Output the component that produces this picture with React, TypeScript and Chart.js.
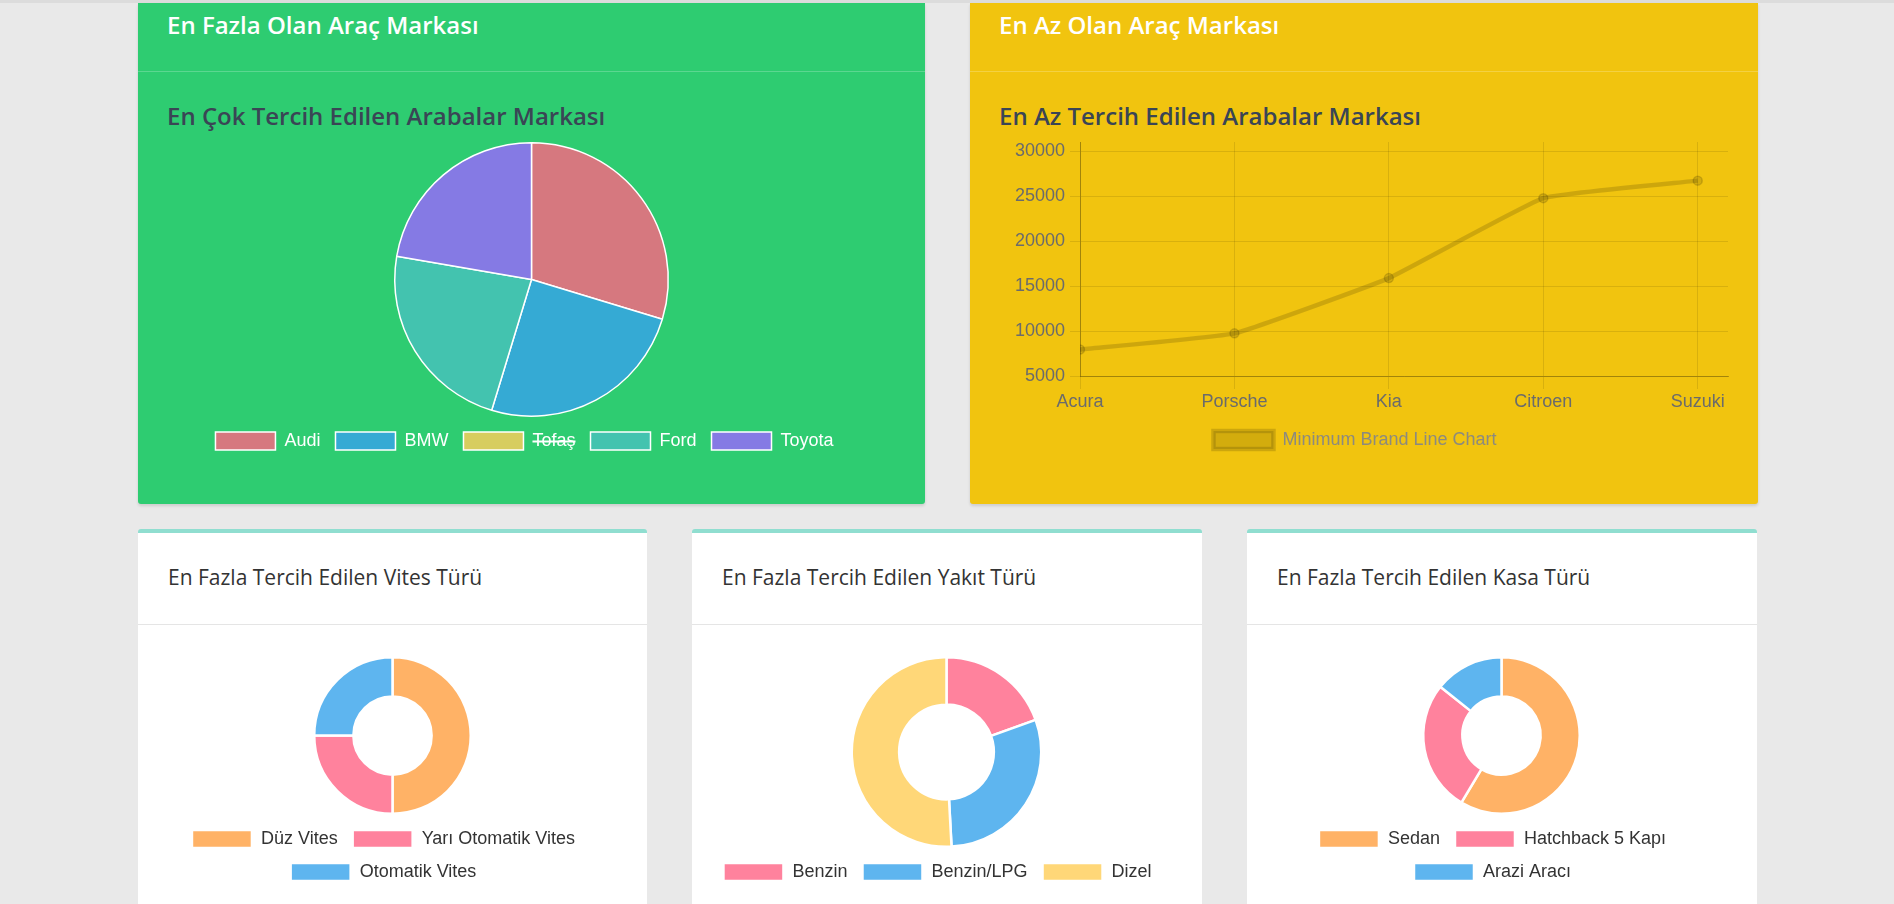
import React, { useEffect, useRef } from "react";
import { Chart, registerables } from "chart.js";

Chart.register(...registerables);

// ---------- data ----------
const brandLabels = ["Audi", "BMW", "Tofaş", "Ford", "Toyota"];
const brandValues = [1200, 1010, 850, 930, 900];
const brandColors = ["#d6787f", "#35aad4", "#d7cd5f", "#43c3af", "#857ae4"];
const hiddenBrandIndex = 2;

const minBrandLabels = ["Acura", "Porsche", "Kia", "Citroen", "Suzuki"];
const minBrandValues = [7950, 9750, 15900, 24800, 26750];
const minBrandSeriesName = "Minimum Brand Line Chart";
const yTickValues = [5000, 10000, 15000, 20000, 25000, 30000];

const gearLabels = ["Düz Vites", "Yarı Otomatik Vites", "Otomatik Vites"];
const gearValues = [50, 25, 25];
const gearColors = ["rgba(255,159,64,0.8)", "rgba(255,99,132,0.8)", "rgba(54,162,235,0.8)"];

const fuelLabels = ["Benzin", "Benzin/LPG", "Dizel"];
const fuelValues = [23, 35, 60];
const fuelColors = ["rgba(255,99,132,0.8)", "rgba(54,162,235,0.8)", "rgba(255,205,86,0.8)"];

const bodyLabels = ["Sedan", "Hatchback 5 Kapı", "Arazi Aracı"];
const bodyValues = [41, 19, 10];
const bodyColors = ["rgba(255,159,64,0.8)", "rgba(255,99,132,0.8)", "rgba(54,162,235,0.8)"];

// ---------- styles ----------
const CHART_FONT = "'Liberation Sans', Arial, Helvetica, sans-serif";
const TEXT_FONT = "'Open Sans', sans-serif";

// shifts the (centered) legend row a little to the left, like the original renderer
const legendShift = {
  id: "legendShift",
  afterLayout(chart: any, _args: any, opts: any) {
    const l = chart.legend;
    const dx = (opts && opts.dx) || 0;
    if (l && dx) {
      l.left -= dx;
      l.right -= dx;
    }
  },
};

function ChartCanvas(props: {
  left: number;
  top: number;
  width: number;
  height: number;
  build: () => any;
  after?: (c: Chart) => void;
}) {
  const ref = useRef<HTMLCanvasElement>(null);
  useEffect(() => {
    const cfg = props.build();
    cfg.plugins = [legendShift];
    const chart = new Chart(ref.current as HTMLCanvasElement, cfg);
    if (props.after) props.after(chart);
    return () => chart.destroy();
  }, []);
  return (
    <canvas
      ref={ref}
      width={props.width}
      height={props.height}
      style={{
        position: "absolute",
        left: props.left,
        top: props.top,
        width: props.width,
        height: props.height,
      }}
    />
  );
}

function Label(props: {
  x: number;
  baseline: number;
  size: number;
  weight: number;
  color: string;
  text: string;
}) {
  const { x, baseline, size, weight, color, text } = props;
  return (
    <div
      style={{
        position: "absolute",
        left: x,
        top: baseline - 0.888 * size,
        fontFamily: TEXT_FONT,
        fontSize: size,
        fontWeight: weight,
        color,
        lineHeight: `${size}px`,
        whiteSpace: "nowrap",
      }}
    >
      {text}
    </div>
  );
}

const legendLabels = (color: string) => ({
  color,
  font: { family: CHART_FONT, size: 18 },
  boxWidth: 60,
  boxHeight: 18,
  padding: 15,
});

function pieConfig() {
  return {
    type: "pie",
    data: {
      labels: brandLabels,
      datasets: [
        {
          data: brandValues,
          backgroundColor: brandColors,
          borderColor: "#ffffff",
          borderWidth: 1.5,
        },
      ],
    },
    options: {
      responsive: false,
      animation: false,
      plugins: {
        legend: { position: "bottom", labels: legendLabels("#ffffff") },
        tooltip: { enabled: false },
        legendShift: { dx: 7 },
      },
    },
  };
}

function lineConfig() {
  const tickFont = { family: CHART_FONT, size: 18 };
  return {
    type: "line",
    data: {
      datasets: [
        {
          label: minBrandSeriesName,
          data: minBrandValues.map((y, i) => ({ x: i, y })),
          borderColor: "rgba(0,0,0,0.15)",
          backgroundColor: "rgba(0,0,0,0.12)",
          borderWidth: 4.5,
          pointRadius: 4.5,
          pointBorderWidth: 1.5,
          tension: 0.1,
          fill: false,
        },
      ],
    },
    options: {
      responsive: false,
      animation: false,
      layout: { padding: { left: 0, top: 20, right: 0, bottom: 0 } },
      scales: {
        x: {
          type: "linear",
          min: 0,
          max: minBrandLabels.length - 1 + 0.196,
          afterBuildTicks: (s: any) => {
            s.ticks = minBrandLabels.map((_, i) => ({ value: i }));
          },
          ticks: {
            autoSkip: false,
            maxRotation: 0,
            padding: -4,
            color: "#6b6b6b",
            font: { ...tickFont, lineHeight: 1.944 },
            callback: (v: number) => minBrandLabels[Math.round(v)] ?? "",
          },
          grid: { color: "rgba(0,0,0,0.1)", tickLength: 13 },
          border: { color: "rgba(0,0,0,0.25)" },
        },
        y: {
          min: yTickValues[0],
          max: 31050,
          afterBuildTicks: (s: any) => {
            s.ticks = yTickValues.map((v) => ({ value: v }));
          },
          afterFit: (s: any) => {
            s.width = 80;
          },
          ticks: {
            padding: 5,
            color: "#6b6b6b",
            font: tickFont,
            callback: (v: number) => String(v),
          },
          grid: { color: "rgba(0,0,0,0.1)", tickLength: 10 },
          border: { color: "rgba(0,0,0,0.25)" },
        },
      },
      plugins: {
        legend: { position: "bottom", labels: legendLabels("#8c8a7e") },
        tooltip: { enabled: false },
        legendShift: { dx: 12 },
      },
    },
  };
}

function donutConfig(labels: string[], values: number[], colors: string[]) {
  return () => ({
    type: "doughnut",
    data: {
      labels,
      datasets: [
        {
          data: values,
          backgroundColor: colors,
          borderColor: "#ffffff",
          borderWidth: 2.5,
        },
      ],
    },
    options: {
      responsive: false,
      animation: false,
      cutout: "50%",
      plugins: {
        legend: { position: "bottom", labels: legendLabels("#333333") },
        tooltip: { enabled: false },
        legendShift: { dx: 9 },
      },
    },
  });
}

const cards = [
  { left: 138, width: 509, title: "En Fazla Tercih Edilen Vites Türü", build: donutConfig(gearLabels, gearValues, gearColors) },
  { left: 692, width: 510, title: "En Fazla Tercih Edilen Yakıt Türü", build: donutConfig(fuelLabels, fuelValues, fuelColors) },
  { left: 1247, width: 510, title: "En Fazla Tercih Edilen Kasa Türü", build: donutConfig(bodyLabels, bodyValues, bodyColors) },
];

export default function App() {
  return (
    <div
      style={{
        position: "absolute",
        left: 0,
        top: 0,
        width: 1894,
        height: 904,
        overflow: "hidden",
        background: "#e9e9e9",
      }}
    >
      <div style={{ position: "absolute", left: 0, top: 0, width: 1894, height: 3, background: "#dcdcdc" }} />

      {/* green panel */}
      <div
        style={{
          position: "absolute",
          left: 138,
          top: 3,
          width: 787,
          height: 501,
          background: "#2ecc71",
          borderRadius: "0 0 3px 3px",
          boxShadow: "0 2px 3px rgba(0,0,0,0.12)",
        }}
      >
        <div style={{ position: "absolute", left: 0, top: 68, width: 787, height: 1, background: "rgba(255,255,255,0.22)" }} />
      </div>
      <Label x={167} baseline={34} size={24} weight={600} color="#ffffff" text="En Fazla Olan Araç Markası" />
      <Label x={167} baseline={125} size={24} weight={600} color="#3a4555" text="En Çok Tercih Edilen Arabalar Markası" />

      {/* yellow panel */}
      <div
        style={{
          position: "absolute",
          left: 970,
          top: 3,
          width: 788,
          height: 501,
          background: "#f1c40f",
          borderRadius: "0 0 3px 3px",
          boxShadow: "0 2px 3px rgba(0,0,0,0.12)",
        }}
      >
        <div style={{ position: "absolute", left: 0, top: 68, width: 788, height: 1, background: "rgba(255,255,255,0.22)" }} />
      </div>
      <Label x={999} baseline={34} size={24} weight={600} color="#ffffff" text="En Az Olan Araç Markası" />
      <Label x={999} baseline={125} size={24} weight={600} color="#3a4555" text="En Az Tercih Edilen Arabalar Markası" />

      <ChartCanvas
        left={168}
        top={142}
        width={727}
        height={318}
        build={pieConfig}
        after={(c) => {
          c.toggleDataVisibility(hiddenBrandIndex);
          c.update();
        }}
      />
      <ChartCanvas left={1000} top={122} width={734} height={337} build={lineConfig} />

      {/* bottom cards */}
      {cards.map((c, i) => (
        <div key={i}>
          <div
            style={{
              position: "absolute",
              left: c.left,
              top: 529,
              width: c.width,
              height: 420,
              background: "#ffffff",
              borderTop: "4px solid #90ded0",
              borderRadius: "3px 3px 0 0",
              boxSizing: "border-box",
            }}
          >
            <div style={{ position: "absolute", left: 0, top: 91, width: c.width, height: 1, background: "#e5e5e5" }} />
          </div>
          <Label x={c.left + 30} baseline={586} size={21} weight={400} color="#333333" text={c.title} />
          <ChartCanvas left={c.left + 15} top={656} width={479} height={235} build={c.build} />
        </div>
      ))}
    </div>
  );
}
